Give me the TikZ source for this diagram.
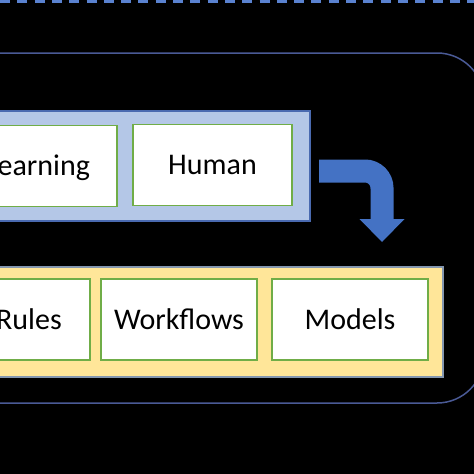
\documentclass[tikz,border=0pt]{standalone}
\usepackage{fontspec}
\setmainfont{Carlito}
\usepackage{xcolor}
\usetikzlibrary{positioning,arrows.meta}
\definecolor{dashblue}{HTML}{5A82D0}
\definecolor{framecol}{HTML}{4A5A96}
\definecolor{panelblue}{HTML}{B4C7E7}
\definecolor{panelline}{HTML}{4A6AB0}
\definecolor{panelyellow}{HTML}{FFE699}
\definecolor{yellowline}{HTML}{8497B0}
\definecolor{boxgreen}{HTML}{70AD47}
\definecolor{arrowblue}{HTML}{4472C4}

\begin{document}
\begin{tikzpicture}
	[x=1pt,y=-1pt,
	panel/.style={draw,line width=1.5pt,inner sep=0pt},
	item/.style={draw=boxgreen,fill=white,line width=1.2pt,inner sep=0pt,
		minimum height=81pt,text height=19.3pt,text depth=0pt,
		font=\fontsize{30}{36}\selectfont},
	bentarrow/.style={draw=arrowblue,line width=23pt,rounded corners=17pt,
		-{Triangle[width=45pt,length=23pt,line width=0pt]}}]
	\useasboundingbox (0,0) rectangle (474,474);
	\fill[black] (0,0) rectangle (474,474);
	%%%%% FRAME
	\draw[dashblue,line width=3.5pt,dash pattern=on 10pt off 7.3pt] (0,1.7) -- (474,1.7);
	\draw[framecol,line width=1.5pt,rounded corners=47pt] (-60,53) rectangle (484,403);
	%%%%% UPPER PANEL
	\node[panel,draw=panelline,fill=panelblue,minimum width=370pt,minimum height=110pt] (upper) at (125,166) {};
	\node[item,minimum width=159pt] (learning) at (37.5,166) {Learning};
	\node[item,minimum width=159pt] (human) at (212.5,165) {Human};
	%%%%% LOWER PANEL
	\node[panel,draw=yellowline,fill=panelyellow,minimum width=503pt,minimum height=110pt] (lower) at (191.5,322) {};
	\node[item,minimum width=122pt] (rules) at (29,319.5) {Rules};
	\node[item,minimum width=156pt] (workflows) at (179,319.5) {Workflows};
	\node[item,minimum width=156pt] (models) at (350,319.5) {Models};
	%%%%% ARROW
	\coordinate (bendstart) at (319,171);
	\coordinate (bendend) at (382,242);
	\path[bentarrow] (bendstart) -| (bendend);
\end{tikzpicture}
\end{document}
